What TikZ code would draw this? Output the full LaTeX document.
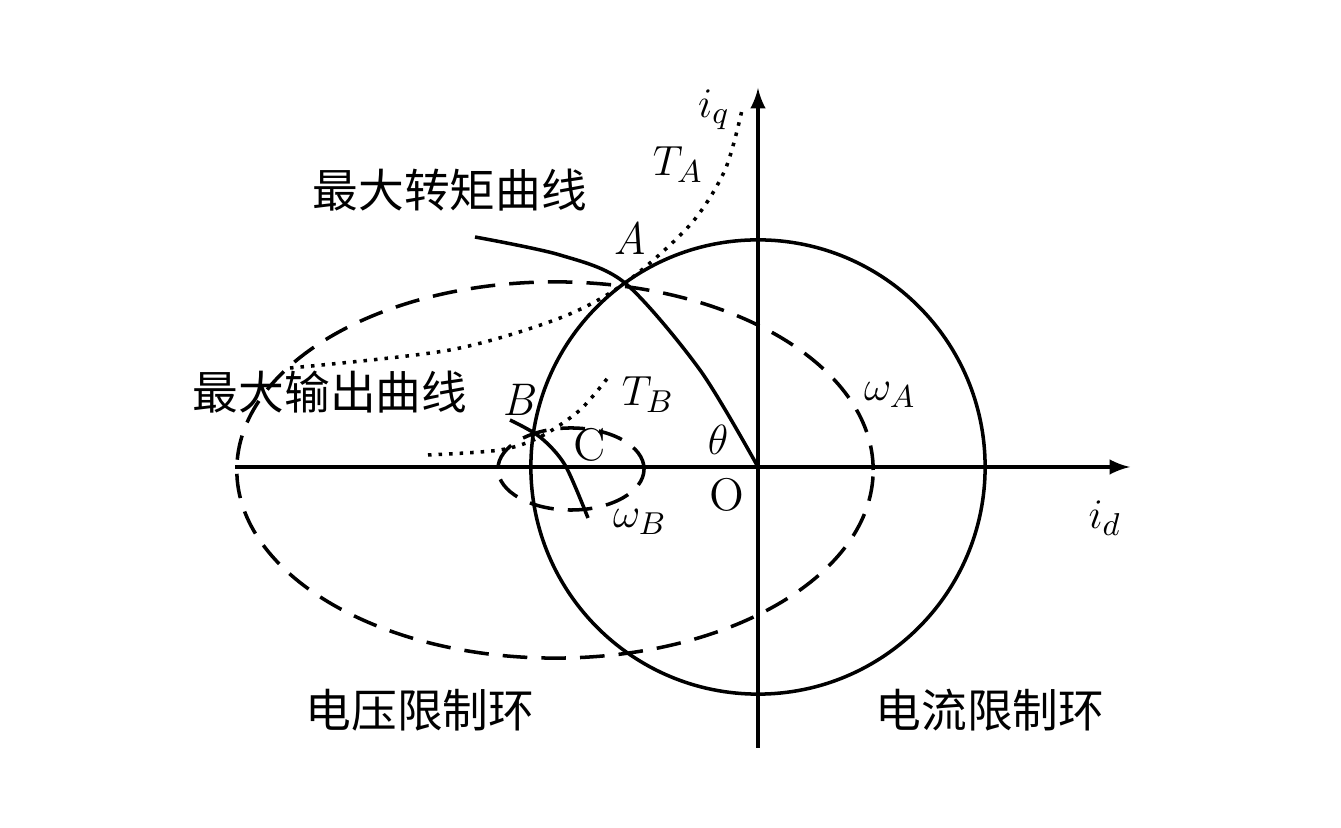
\documentclass[tikz,border=0pt]{standalone}
\usepackage{fontspec}
\newfontfamily\cjk{Noto Sans CJK SC}
\begin{document}
\begin{tikzpicture}[x=0.01cm,y=-0.01cm,line width=1pt,
    curve/.style={line width=1pt},
    dashcurve/.style={line width=1pt,dash pattern=on 7pt off 4pt},
    dotcurve/.style={line width=1pt,dotted},
    lbl/.style={font=\fontsize{13}{15}\selectfont\itshape},
    zh/.style={font=\fontsize{13}{15}\selectfont\cjk}]
    \useasboundingbox (0,0) rectangle (1341,828);
    % Points
    \coordinate (O) at (758,467);
    \coordinate (A) at (625,283);
    \coordinate (B) at (540,437);
    % Axes
    \draw[-latex] (235,467) -- (1130,467);
    \draw[-latex] (758,748) -- (758,88);
    % Limit circles
    \draw[curve] (O) circle[radius=2.27cm];
    \draw[dashcurve] (555,470) ellipse[x radius=3.18cm,y radius=1.88cm];
    \draw[dashcurve] (571,469) ellipse[x radius=0.73cm,y radius=0.41cm];
    % Curves
    \draw[curve] plot[smooth] coordinates {(475,237) (560,255) (A) (700,370) (O)};
    \draw[curve] plot[smooth] coordinates {(510,420) (B) (565,465) (588,518)};
    \draw[dotcurve] plot[smooth] coordinates {(290,368) (450,350) (560,318) (A) (690,225) (725,170) (742,110)};
    \draw[dotcurve] plot[smooth] coordinates {(428,455) (500,450) (B) (580,410) (610,375)};
    % Labels
    \node (lblmt) [zh] at (450,190) {最大转矩曲线};
    \node (lblmo) [zh] at (330,392) {最大输出曲线};
    \node (lblv) [zh] at (420,710) {电压限制环};
    \node (lblc) [zh] at (990,710) {电流限制环};
    \node (lblA) [lbl] at (630,238) {A};
    \node (lblB) [lbl] at (518,400) {B};
    \node (lblC) [font=\fontsize{13}{15}\selectfont] at (590,445) {C};
    \node (lblO) [font=\fontsize{13}{15}\selectfont] at (727,495) {O};
    \node (lblth) [font=\fontsize{13}{15}\selectfont] at (718,440) {$\theta$};
    \node (lblTA) [font=\fontsize{13}{15}\selectfont] at (678,165) {$T_A$};
    \node (lblTB) [font=\fontsize{13}{15}\selectfont] at (648,395) {$T_B$};
    \node (lbliq) [font=\fontsize{13}{15}\selectfont] at (714,110) {$i_q$};
    \node (lblid) [font=\fontsize{13}{15}\selectfont] at (1105,518) {$i_d$};
    \node (lblwA) [font=\fontsize{13}{15}\selectfont] at (890,395) {$\omega_A$};
    \node (lblwB) [font=\fontsize{13}{15}\selectfont] at (640,522) {$\omega_B$};
\end{tikzpicture}
\end{document}
